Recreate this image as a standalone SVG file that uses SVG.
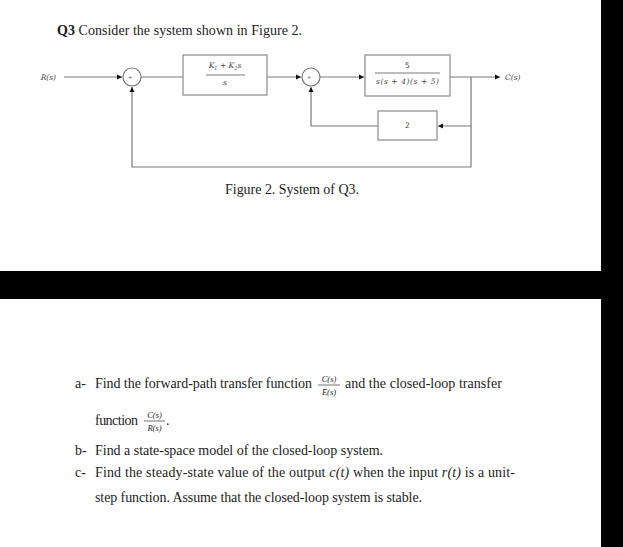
<svg xmlns="http://www.w3.org/2000/svg" width="623" height="547" viewBox="0 0 623 547">
<style>
.t{font-family:"Liberation Serif","Times New Roman",serif;font-size:14px;fill:#1c1c1c}
.m{font-family:"DejaVu Serif",serif;font-style:italic;font-size:7.5px;fill:#444}
.mi{font-family:"Liberation Serif",serif;font-style:italic;fill:#1c1c1c}
.ln{stroke:#7a7a7a;stroke-width:1.2;fill:none}
.bx{stroke:#8a8a8a;stroke-width:1.2;fill:#fff}
.fr{stroke:#555;stroke-width:0.8}
.frt{stroke:#333;stroke-width:0.7}
</style>
<defs>
<marker id="ah" markerWidth="6" markerHeight="6" refX="5" refY="3" orient="auto" markerUnits="userSpaceOnUse">
<path d="M0,0.5 L5,3 L0,5.5 Z" fill="#111"/>
</marker>
</defs>
<rect width="623" height="547" fill="#fff"/>
<text class="t" x="57" y="35" textLength="245"><tspan font-weight="bold">Q3</tspan> Consider the system shown in Figure 2.</text>

<g id="connectors">
<line class="ln" x1="64" y1="77" x2="122" y2="77" marker-end="url(#ah)"/>
<line class="ln" x1="141" y1="77" x2="183" y2="77"/>
<line class="ln" x1="267" y1="77" x2="301" y2="77" marker-end="url(#ah)"/>
<line class="ln" x1="320" y1="77" x2="364" y2="77" marker-end="url(#ah)"/>
<line class="ln" x1="450" y1="77" x2="500" y2="77" marker-end="url(#ah)"/>
<polyline class="ln" points="471,77 471,126 438,126" marker-end="url(#ah)"/>
<polyline class="ln" points="378,126 311,126 311,87" marker-end="url(#ah)"/>
<polyline class="ln" points="471,126 471,167 132,167 132,87" marker-end="url(#ah)"/>
</g>

<g id="R">
<text class="m" x="56" y="79.5" text-anchor="end">R(s)</text>
</g>
<g id="sum1">
<circle cx="132" cy="77" r="9" fill="#fff" stroke="#777" stroke-width="1.2"/>
<text x="128" y="79" font-family="DejaVu Sans,sans-serif" font-size="5" fill="#555">+</text>
</g>
<g id="block1">
<rect class="bx" x="183" y="55" width="84" height="40"/>
<text class="m" x="225" y="68" text-anchor="middle">K<tspan font-size="5" dy="1.5">1</tspan><tspan dy="-1.5"> + K</tspan><tspan font-size="5" dy="1.5">2</tspan><tspan dy="-1.5">s</tspan></text>
<line class="fr" x1="206" y1="75" x2="245" y2="75"/>
<text class="m" x="225" y="85" text-anchor="middle">s</text>
</g>
<g id="sum2">
<circle cx="311" cy="77" r="9" fill="#fff" stroke="#777" stroke-width="1.2"/>
<text x="307" y="79" font-family="DejaVu Sans,sans-serif" font-size="5" fill="#555">+</text>
</g>
<g id="block2">
<rect class="bx" x="365" y="55" width="85" height="41"/>
<text x="407.5" y="68" text-anchor="middle" font-family="DejaVu Sans,sans-serif" font-size="7.5" fill="#444">5</text>
<line class="fr" x1="375" y1="73" x2="440" y2="73"/>
<text class="m" x="407.5" y="84" text-anchor="middle" textLength="63">s(s + 4)(s + 5)</text>
</g>
<g id="C">
<text class="m" x="505" y="79.5" font-size="8">C(s)</text>
</g>
<g id="block3">
<rect class="bx" x="378" y="111" width="59" height="29"/>
<text x="407.5" y="128" text-anchor="middle" font-family="DejaVu Sans,sans-serif" font-size="7.5" fill="#444">2</text>
</g>

<text class="t" x="225" y="194" textLength="134">Figure 2. System of Q3.</text>

<rect x="0" y="271" width="601" height="28" fill="#000"/>
<rect x="601" y="0" width="22" height="547" fill="#000"/>

<text class="t" x="75" y="388">a-</text>
<text class="t" x="95" y="388" textLength="217">Find the forward-path transfer function</text>
<text class="mi" x="329" y="382" font-size="8.5" text-anchor="middle">C(s)</text>
<line class="frt" x1="318" y1="385" x2="340" y2="385"/>
<text class="mi" x="329" y="395" font-size="8.5" text-anchor="middle">E(s)</text>
<text class="t" x="345" y="388" textLength="157">and the closed-loop transfer</text>

<text class="t" x="95" y="425" textLength="43">function</text>
<text class="mi" x="154.5" y="418" font-size="8.5" text-anchor="middle">C(s)</text>
<line class="frt" x1="144" y1="421" x2="165" y2="421"/>
<text class="mi" x="154.5" y="431" font-size="8.5" text-anchor="middle">R(s)</text>
<text class="t" x="166" y="425">.</text>

<text class="t" x="75" y="455">b-</text>
<text class="t" x="95" y="455" textLength="288">Find a state-space model of the closed-loop system.</text>

<text class="t" x="75" y="477">c-</text>
<text class="t" x="95" y="477" textLength="420">Find the steady-state value of the output <tspan class="mi">c(t)</tspan> when the input <tspan class="mi">r(t)</tspan> is a unit-</text>
<text class="t" x="95" y="502" textLength="327">step function. Assume that the closed-loop system is stable.</text>
</svg>
